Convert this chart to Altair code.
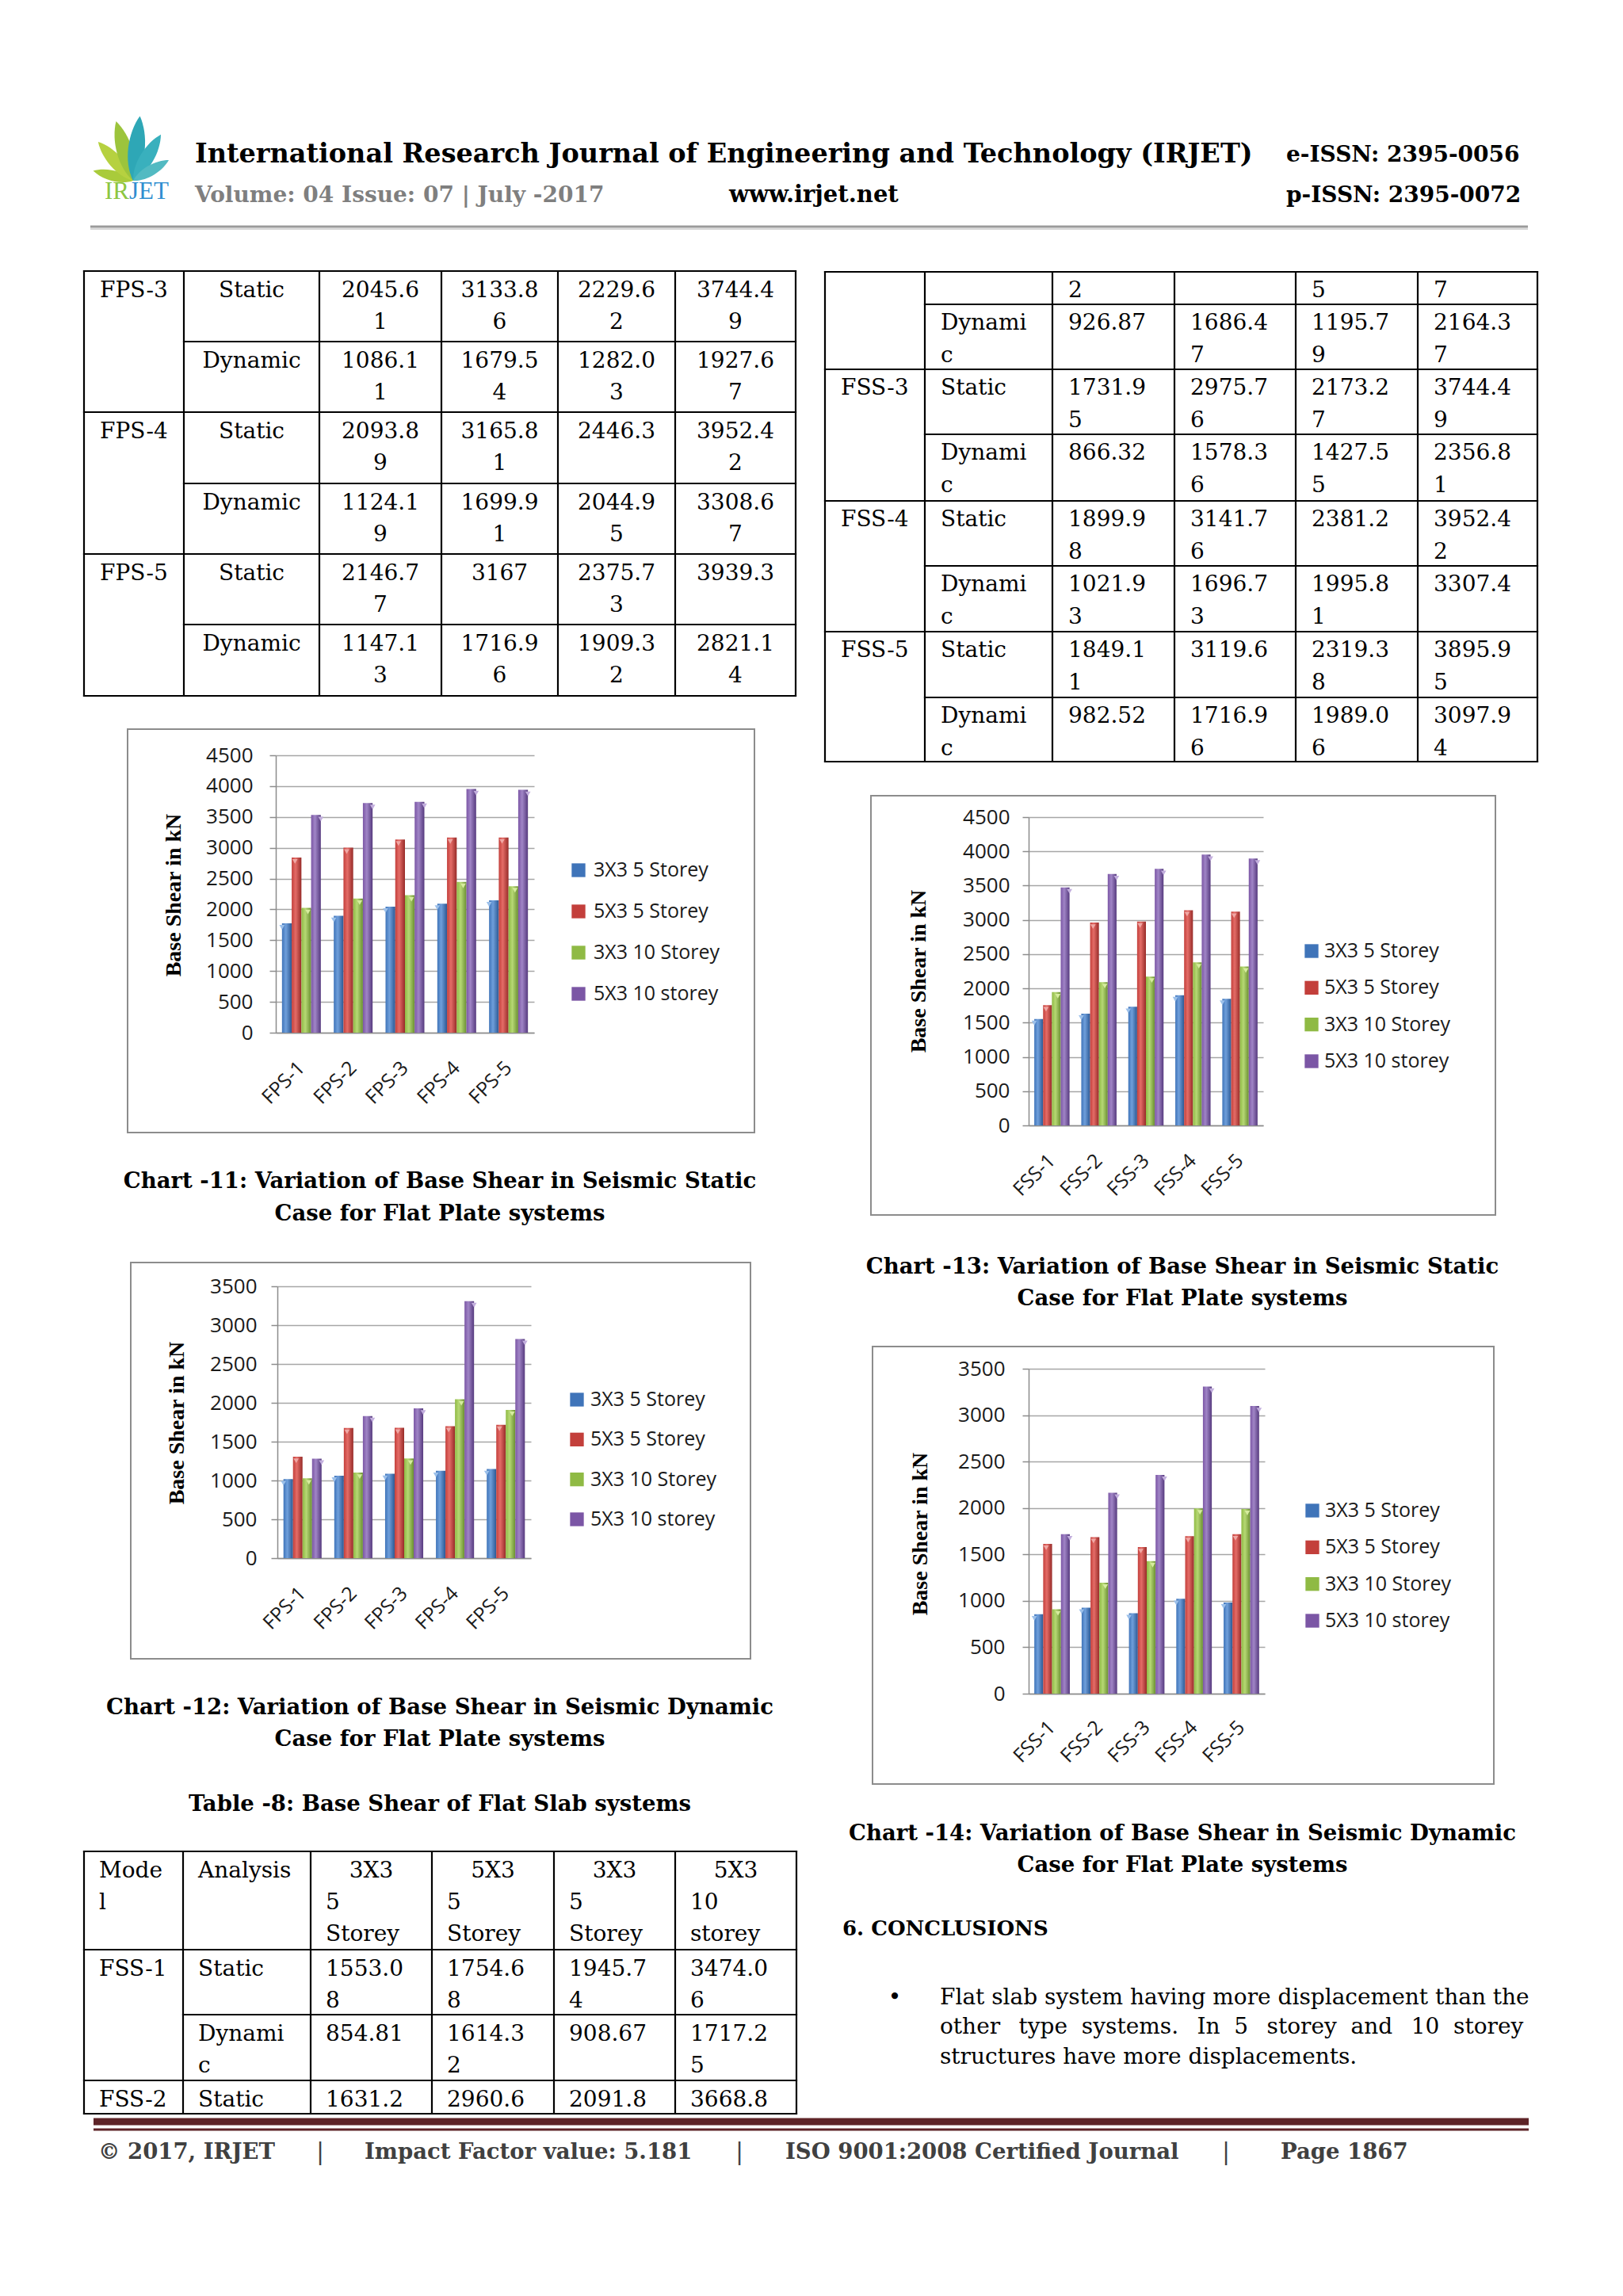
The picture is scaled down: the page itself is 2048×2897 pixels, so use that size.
import altair as alt
import pandas as pd

W, H = 2032, 2881


def P(v):
    return v - 8


SERIF = 'DejaVu Serif'
CFONT = 'Open Sans'

# ---------------- categories & series ----------------
SERIES = ['3X3 5 Storey', '5X3 5 Storey', '3X3 10 Storey', '5X3 10 storey']
COLORS = ['#3F74B9', '#C33F3B', '#8FBA44', '#7B56A5']
DARK = ['#2C5893', '#972B28', '#6A8F31', '#563A7E']
LIGHT_BAR = ['#6F9FDB', '#E46C67', '#B6D874', '#A085C6']
LIGHT = ['#9CC0EA', '#F0A8A5', '#D6EC9E', '#C2AEDD']
FPS_MODELS = ['FPS-1', 'FPS-2', 'FPS-3', 'FPS-4', 'FPS-5']
FSS_MODELS = ['FSS-1', 'FSS-2', 'FSS-3', 'FSS-4', 'FSS-5']
Y_TITLE = 'Base Shear in kN'

# ---------------- Flat plate, static ----------------
fps_static_3x3_5 = [1774, 1895, 2045.61, 2093.89, 2146.77]
fps_static_5x3_5 = [2842, 3002, 3133.86, 3165.81, 3167]
fps_static_3x3_10 = [2024, 2175, 2229.62, 2446.3, 2375.73]
fps_static_5x3_10 = [3531, 3725, 3744.49, 3952.42, 3939.3]
# ---------------- Flat plate, dynamic ----------------
fps_dyn_3x3_5 = [1017, 1061, 1086.11, 1124.19, 1147.13]
fps_dyn_5x3_5 = [1305, 1677, 1679.54, 1699.91, 1716.96]
fps_dyn_3x3_10 = [1027, 1101, 1282.03, 2044.95, 1909.32]
fps_dyn_5x3_10 = [1281, 1830, 1927.67, 3308.67, 2821.14]
# ---------------- Flat slab, static ----------------
fss_static_3x3_5 = [1553.08, 1631.22, 1731.95, 1899.98, 1849.11]
fss_static_5x3_5 = [1754.68, 2960.6, 2975.76, 3141.76, 3119.6]
fss_static_3x3_10 = [1945.74, 2091.85, 2173.27, 2381.2, 2319.38]
fss_static_5x3_10 = [3474.06, 3668.87, 3744.49, 3952.42, 3895.95]
# ---------------- Flat slab, dynamic ----------------
fss_dyn_3x3_5 = [854.81, 926.87, 866.32, 1021.93, 982.52]
fss_dyn_5x3_5 = [1614.32, 1686.47, 1578.36, 1696.73, 1716.96]
fss_dyn_3x3_10 = [908.67, 1195.79, 1427.55, 1995.81, 1989.06]
fss_dyn_5x3_10 = [1717.25, 2164.37, 2356.81, 3307.4, 3097.94]

FPS_STATIC = [fps_static_3x3_5, fps_static_5x3_5, fps_static_3x3_10, fps_static_5x3_10]
FPS_DYN = [fps_dyn_3x3_5, fps_dyn_5x3_5, fps_dyn_3x3_10, fps_dyn_5x3_10]
FSS_STATIC = [fss_static_3x3_5, fss_static_5x3_5, fss_static_3x3_10, fss_static_5x3_10]
FSS_DYN = [fss_dyn_3x3_5, fss_dyn_5x3_5, fss_dyn_3x3_10, fss_dyn_5x3_10]

# ---------------- page texts ----------------
HEADER_TITLE = 'International Research Journal of Engineering and Technology (IRJET)'
HEADER_VOL = 'Volume: 04 Issue: 07 | July -2017'
HEADER_WEB = 'www.irjet.net'
HEADER_EISSN = 'e-ISSN: 2395-0056'
HEADER_PISSN = 'p-ISSN: 2395-0072'
CAP11 = ['Chart -11: Variation of Base Shear in Seismic Static', 'Case for Flat Plate systems']
CAP12 = ['Chart -12: Variation of Base Shear in Seismic Dynamic', 'Case for Flat Plate systems']
CAP13 = ['Chart -13: Variation of Base Shear in Seismic Static', 'Case for Flat Plate systems']
CAP14 = ['Chart -14: Variation of Base Shear in Seismic Dynamic', 'Case for Flat Plate systems']
TABLE8_TITLE = 'Table -8: Base Shear of Flat Slab systems'
T8_HEAD_TOP = ['3X3', '5X3', '3X3', '5X3']
T8_HEAD_REST = ['5\nStorey', '5\nStorey', '5\nStorey', '10\nstorey']
CONCL_HEAD = '6. CONCLUSIONS'
G1 = '\u00a0 '
G2 = '\u00a0\u2009 '
CONCL_LINES = ['Flat slab system having more displacement than the',
               ('other' + G2 + 'type' + G1 + 'systems.' + G2 + 'In' + G1 + '5' + G2 + 'storey'
                + G1 + 'and' + G2 + '10' + G1 + 'storey'),
               'structures have more displacements.']
FOOTER = ['\u00a9 2017, IRJET', 'Impact Factor value: 5.181', 'ISO 9001:2008 Certified Journal', 'Page 1867']

# logo leaves (angle clockwise from up, length, colour)
LEAF_ANGLES = [284, 318, 344, 6, 31, 60]
LEAF_LENGTHS = [52, 66, 78, 82, 68, 52]
LEAF_COLORS = ['#A9CB3B', '#B6D140', '#9CC43C', '#2EA7B6', '#39B0BD', '#52BAC2']
LEAF_PATH = 'M0,1 C0.36,0.45 0.32,-0.45 0,-1 C-0.32,-0.45 -0.36,0.45 0,1 Z'

ONE = pd.DataFrame({'t': ['']})
color_scale = alt.Scale(domain=SERIES, range=COLORS)


def gradient(i):
    return alt.LinearGradient(gradient='linear', x1=0, x2=1, y1=0, y2=0, stops=[
        alt.GradientStop(offset=0, color=COLORS[i]),
        alt.GradientStop(offset=0.4, color=LIGHT_BAR[i]),
        alt.GradientStop(offset=1, color=DARK[i])])


def text_layer(s, x, y, size, font=SERIF, weight='normal', color='black', align='left',
               baseline='alphabetic'):
    df = pd.DataFrame({'t': [s]})
    return alt.Chart(df).mark_text(align=align, baseline=baseline, font=font, fontSize=size,
                                   fontWeight=weight, color=color).encode(
        x=alt.value(P(x)), y=alt.value(P(y)), text='t:N')


def hrule(x0, x1, y, color, w):
    return alt.Chart(ONE).mark_rule(color=color, strokeWidth=w).encode(
        x=alt.value(P(x0)), x2=alt.value(P(x1)), y=alt.value(P(y)))


def box(x0, x1, y0, y1):
    return alt.Chart(ONE).mark_rect(fill='white', fillOpacity=0, stroke='#8C8C8C',
                                    strokeWidth=2).encode(
        x=alt.value(P(x0)), x2=alt.value(P(x1)), y=alt.value(P(y0)), y2=alt.value(P(y1)))


def bar_chart(models, series_values, g):
    rows = [{'model': m, 'series': s, 'value': v}
            for s, vals in zip(SERIES, series_values) for m, v in zip(models, vals)]
    df = pd.DataFrame(rows)
    xsc = alt.Scale(domain=models, range=[P(g['x0']), P(g['x1'])], paddingInner=0.25,
                    paddingOuter=0.12)
    ysc = alt.Scale(domain=[0, g['ymax']], range=[P(g['y0']), P(g['y1'])], nice=False)
    osc = alt.Scale(domain=SERIES, paddingInner=0, paddingOuter=0)
    yaxis = alt.Axis(orient='left', offset=-P(g['x0']), values=list(range(0, g['ymax'] + 1, 500)),
                     format='d', grid=True, gridColor='#A6A6A6', gridWidth=1.5,
                     domainColor='#8C8C8C', domainWidth=1.5, tickColor='#8C8C8C', tickSize=8,
                     tickWidth=1.5, labelFont=CFONT, labelFontSize=26, labelColor='#1A1A1A',
                     labelPadding=g['lp'], title=Y_TITLE, titleFont='Liberation Serif',
                     titleFontWeight='bold', titleFontSize=28, titleColor='black',
                     titleX=g['tx'] - g['x0'], titleY=P(g['ty']), titleAngle=270,
                     titleBaseline='middle', titleAlign='center')
    xaxis = alt.Axis(orient='bottom', offset=P(g['y0']) - H, labelAngle=-45, labelAlign='right',
                     labelBaseline='middle', labelPadding=g['xlp'], ticks=False, grid=False,
                     domainColor='#8C8C8C', domainWidth=1.5, labelFont=CFONT, labelFontSize=25,
                     labelColor='#1A1A1A', title=None)
    out = [box(g['bx0'], g['bx1'], g['by0'], g['by1'])]
    for i, s in enumerate(SERIES):
        first = i == 0
        out.append(alt.Chart(df).transform_filter(alt.datum.series == s).mark_bar(
            color=gradient(i)).encode(
            x=alt.X('model:N', sort=models, scale=xsc, axis=xaxis if first else None),
            xOffset=alt.XOffset('series:N', sort=SERIES, scale=osc),
            y=alt.Y('value:Q', scale=ysc, axis=yaxis if first else None)))
    out.append(alt.Chart(df).mark_point(shape='triangle-down', filled=True, size=45, opacity=1,
                                        strokeWidth=0, yOffset=5).encode(
        x=alt.X('model:N', sort=models, scale=xsc, axis=None),
        xOffset=alt.XOffset('series:N', sort=SERIES, scale=osc),
        y=alt.Y('value:Q', scale=ysc, axis=None),
        fill=alt.Fill('series:N', scale=alt.Scale(domain=SERIES, range=LIGHT), legend=None)))
    leg = pd.DataFrame({'series': SERIES})
    ly = alt.Y('series:N', sort=SERIES,
               scale=alt.Scale(domain=SERIES, range=[P(g['ly0']), P(g['ly1'])], padding=0),
               axis=None)
    out.append(alt.Chart(leg).mark_square(size=300, opacity=1).encode(
        x=alt.value(P(g['lsx'])), y=ly, color=alt.Color('series:N', scale=color_scale, legend=None)))
    out.append(alt.Chart(leg).mark_text(align='left', baseline='middle', font=CFONT, fontSize=25,
                                        color='#1A1A1A').encode(
        x=alt.value(P(g['ltx'])), y=ly, text='series:N'))
    return out


def wrap(v, n=6):
    s = str(v)
    return s if len(s) <= n else s[:n] + '\n' + s[n:]


def table(col_px, row_px, cells_left, cells_center, hlines, vlines, dy, lh, dx=20, size=28):
    xs = alt.Scale(domain=list(range(len(col_px))), range=[P(v) for v in col_px], nice=False,
                   zero=False)
    ys = alt.Scale(domain=list(range(len(row_px))), range=[P(v) for v in row_px], nice=False,
                   zero=False)
    out = []
    hdf = pd.DataFrame(hlines, columns=['r', 'c0', 'c1'])
    out.append(alt.Chart(hdf).mark_rule(color='black', strokeWidth=2.2, strokeCap='square').encode(
        x=alt.X('c0:Q', scale=xs, axis=None), x2='c1:Q', y=alt.Y('r:Q', scale=ys, axis=None)))
    vdf = pd.DataFrame(vlines, columns=['c', 'r0', 'r1'])
    out.append(alt.Chart(vdf).mark_rule(color='black', strokeWidth=2.2, strokeCap='square').encode(
        x=alt.X('c:Q', scale=xs, axis=None), y=alt.Y('r0:Q', scale=ys, axis=None), y2='r1:Q'))
    for cells, align, ddx in ((cells_left, 'left', dx), (cells_center, 'center', 0)):
        cells = [c for c in cells if c[2] != '']
        if cells:
            df = pd.DataFrame(cells, columns=['c', 'r', 't'])
            out.append(alt.Chart(df).mark_text(align=align, baseline='alphabetic', dx=ddx, dy=dy,
                                               font=SERIF, fontSize=size, lineBreak='\n',
                                               lineHeight=lh, color='black').encode(
                x=alt.X('c:Q', scale=xs, axis=None), y=alt.Y('r:Q', scale=ys, axis=None),
                text='t:N'))
    return out


layers = []

# ---------------- header ----------------
leaves = pd.DataFrame({'a': LEAF_ANGLES, 'L': LEAF_LENGTHS, 'col': LEAF_COLORS})
layers.append(alt.Chart(leaves).transform_calculate(
    lx=f'{P(168)} + datum.L / 2 * sin(datum.a * PI / 180)',
    ly=f'{P(228)} - datum.L / 2 * cos(datum.a * PI / 180)',
    sz='datum.L * datum.L').mark_point(shape=LEAF_PATH, filled=True, opacity=1, strokeWidth=0).encode(
    x=alt.X('lx:Q', scale=None, axis=None), y=alt.Y('ly:Q', scale=None, axis=None),
    angle=alt.Angle('a:Q', scale=None), size=alt.Size('sz:Q', scale=None),
    color=alt.Color('col:N', scale=None)))
layers.append(text_layer('IR', 132, 251, 31, font='Liberation Serif', color='#8DC641'))
layers.append(text_layer('JET', 163, 251, 31, font='Liberation Serif', color='#2F8ED0'))
layers.append(text_layer(HEADER_TITLE, 246, 205, 33.5, weight='bold'))
layers.append(text_layer(HEADER_EISSN, 1623, 204, 28, weight='bold'))
layers.append(text_layer(HEADER_VOL, 246, 255, 28, weight='bold', color='#7F7F7F'))
layers.append(text_layer(HEADER_WEB, 920, 255, 29, weight='bold'))
layers.append(text_layer(HEADER_PISSN, 1623, 255, 28, weight='bold'))
layers.append(hrule(114, 1928, 286, '#9A9A9A', 3))
layers.append(hrule(114, 1928, 289, '#D8D8D8', 2))

# ---------------- left table (FPS-3..5) ----------------
cl, cc = [], []
for i, mi in enumerate([2, 3, 4]):
    cl.append((0, 2 * i, FPS_MODELS[mi]))
    cc.append((1.5, 2 * i, 'Static'))
    cc.append((1.5, 2 * i + 1, 'Dynamic'))
    for j in range(4):
        cc.append((2.5 + j, 2 * i, wrap(FPS_STATIC[j][mi])))
        cc.append((2.5 + j, 2 * i + 1, wrap(FPS_DYN[j][mi])))
hl = [(0, 0, 6), (1, 1, 6), (2, 0, 6), (3, 1, 6), (4, 0, 6), (5, 1, 6), (6, 0, 6)]
vl = [(c, 0, 6) for c in range(7)]
layers += table([106, 232, 403, 557, 704, 852, 1004], [342, 431, 520, 610, 699, 788, 878],
                cl, cc, hl, vl, dy=33, lh=40)

# ---------------- right table (FSS-2..5) ----------------
cl = []
for j in range(4):
    cl.append((2 + j, 0, str(FSS_STATIC[j][1])[6:]))
cl.append((1, 1, 'Dynami\nc'))
for j in range(4):
    cl.append((2 + j, 1, wrap(FSS_DYN[j][1])))
for k, mi in enumerate([2, 3, 4]):
    r = 2 + 2 * k
    cl.append((0, r, FSS_MODELS[mi]))
    cl.append((1, r, 'Static'))
    cl.append((1, r + 1, 'Dynami\nc'))
    for j in range(4):
        cl.append((2 + j, r, wrap(FSS_STATIC[j][mi])))
        cl.append((2 + j, r + 1, wrap(FSS_DYN[j][mi])))
hl = [(0, 0, 6), (1, 1, 6), (2, 0, 6), (3, 1, 6), (4, 0, 6), (5, 1, 6), (6, 0, 6), (7, 1, 6),
      (8, 0, 6)]
vl = [(c, 0, 8) for c in range(7)]
layers += table([1041, 1167, 1328, 1482, 1635, 1789, 1940],
                [343, 384, 466, 548, 632, 714, 797, 880, 961], cl, [], hl, vl, dy=32, lh=41)

# ---------------- table 8 ----------------
cl = [(0, 0, 'Mode\nl'), (1, 0, 'Analysis'), (0, 1, FSS_MODELS[0]), (1, 1, 'Static'),
      (1, 2, 'Dynami\nc'), (0, 3, FSS_MODELS[1]), (1, 3, 'Static')]
for j in range(4):
    cl.append((2 + j, 1, wrap(FSS_STATIC[j][0])))
    cl.append((2 + j, 2, wrap(FSS_DYN[j][0])))
    cl.append((2 + j, 3, str(FSS_STATIC[j][1])[:6]))
cc = [(2.5 + j, 0, T8_HEAD_TOP[j]) for j in range(4)]
hl = [(0, 0, 6), (1, 0, 6), (2, 1, 6), (3, 0, 6), (4, 0, 6)]
vl = [(c, 0, 4) for c in range(7)]
T8_COLS = [106, 231, 392, 545, 699, 852, 1005]
T8_ROWS = [2336, 2460, 2542, 2625, 2667]
layers += table(T8_COLS, T8_ROWS, cl, cc, hl, vl, dy=33, lh=40, dx=19)
xs8 = alt.Scale(domain=list(range(7)), range=[P(v) for v in T8_COLS], nice=False, zero=False)
ys8 = alt.Scale(domain=list(range(5)), range=[P(v) for v in T8_ROWS], nice=False, zero=False)
hdr = pd.DataFrame({'c': [2, 3, 4, 5], 'r': [0, 0, 0, 0], 't': T8_HEAD_REST})
layers.append(alt.Chart(hdr).mark_text(align='left', baseline='alphabetic', dx=19, dy=73, font=SERIF,
                                       fontSize=28, lineBreak='\n', lineHeight=40,
                                       color='black').encode(
    x=alt.X('c:Q', scale=xs8, axis=None), y=alt.Y('r:Q', scale=ys8, axis=None), text='t:N'))

# ---------------- charts ----------------
G11 = dict(bx0=161, bx1=952, by0=920, by1=1429, x0=348, x1=674, y0=1303, y1=953, ymax=4500, lp=21,
           tx=219, ty=1129, xlp=40, lsx=730, ltx=749, ly0=1098, ly1=1254)
G12 = dict(bx0=165, bx1=947, by0=1593, by1=2093, x0=350, x1=670, y0=1966, y1=1623, ymax=3500, lp=18,
           tx=223, ty=1795, xlp=40, lsx=728, ltx=745, ly0=1766, ly1=1917)
G13 = dict(bx0=1099, bx1=1887, by0=1004, by1=1533, x0=1298, x1=1594, y0=1420, y1=1031, ymax=4500,
           lp=16, tx=1159, ty=1225, xlp=40, lsx=1655, ltx=1671, ly0=1200, ly1=1339)
G14 = dict(bx0=1101, bx1=1885, by0=1699, by1=2251, x0=1298, x1=1596, y0=2137, y1=1727, ymax=3500,
           lp=22, tx=1161, ty=1935, xlp=38, lsx=1656, ltx=1672, ly0=1906, ly1=2045)
layers += bar_chart(FPS_MODELS, FPS_STATIC, G11)
layers += bar_chart(FPS_MODELS, FPS_DYN, G12)
layers += bar_chart(FSS_MODELS, FSS_STATIC, G13)
layers += bar_chart(FSS_MODELS, FSS_DYN, G14)

# ---------------- captions ----------------
for cap, cx, y1, y2 in ((CAP11, 555, 1491, 1532), (CAP12, 555, 2155, 2195),
                        (CAP13, 1492, 1599, 1639), (CAP14, 1492, 2314, 2354)):
    layers.append(text_layer(cap[0], cx, y1, 27.5, weight='bold', align='center', baseline='middle'))
    layers.append(text_layer(cap[1], cx, y2, 27.5, weight='bold', align='center', baseline='middle'))
layers.append(text_layer(TABLE8_TITLE, 555, 2277, 27.5, weight='bold', align='center',
                         baseline='middle'))

# ---------------- conclusions ----------------
layers.append(text_layer(CONCL_HEAD, 1063, 2434, 26, weight='bold', baseline='middle'))
layers.append(text_layer('\u2022', 1129, 2521, 28, align='center', baseline='middle'))
for line, y in zip(CONCL_LINES, [2521, 2558, 2596]):
    layers.append(text_layer(line, 1186, y, 28, baseline='middle'))

# ---------------- footer ----------------
layers.append(hrule(118, 1929, 2677, '#5E2428', 9))
layers.append(hrule(118, 1929, 2687, '#5E2428', 3))
for s, x in zip(FOOTER, [124, 460, 991, 1616]):
    layers.append(text_layer(s, x, 2716, 27.5, weight='bold', color='#404040', baseline='middle'))
for x in [404, 933, 1547]:
    layers.append(text_layer('|', x, 2716, 30, color='#404040', align='center', baseline='middle'))

chart = alt.layer(*layers).properties(
    width=W, height=H, autosize=alt.AutoSizeParams(type='none'), padding=0, background='white'
).resolve_scale(
    x='independent', y='independent', xOffset='independent'
).configure_view(strokeWidth=0, stroke='transparent')

chart.save('out.html', embed_options={'renderer': 'svg', 'actions': False})
